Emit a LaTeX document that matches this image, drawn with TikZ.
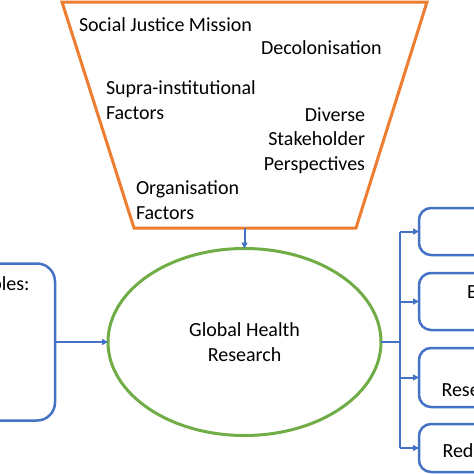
\documentclass[tikz,border=0pt]{standalone}
\usepackage{fontspec}
\setmainfont{Carlito}
\usetikzlibrary{arrows.meta,shapes.geometric,calc}
\definecolor{offorange}{HTML}{ED7D31}
\definecolor{offgreen}{HTML}{70AD47}
\definecolor{offblue}{HTML}{4472C4}
\begin{document}
\begin{tikzpicture}[x=1pt,y=-1pt,
  lbl/.style={inner sep=0pt,outer sep=0pt,font=\fontsize{20}{24.5}\selectfont},
  bluebox/.style={draw=offblue,line width=2.5pt,rounded corners=12pt,inner sep=0pt,outer sep=0pt},
  conn/.style={draw=offblue,line width=2pt,-{Triangle[length=6pt,width=6pt]}},
  busline/.style={draw=offblue,line width=2pt}]
\useasboundingbox (0,0) rectangle (474,474);
% funnel
\draw[offorange,line width=3pt,line join=miter] (62,2) -- (427,2) -- (356,228) -- (134,228) -- cycle;
\node[lbl,anchor=base west] (sjm) at (79,31) {Social Justice Mission};
\node[lbl,anchor=base west] (dec) at (261,54) {Decolonisation};
\node[lbl,anchor=base west,align=left] (sup) at (106,119) {Supra-institutional\\Factors};
\node[lbl,anchor=base east,align=right] (dsp) at (365,170) {Diverse\\Stakeholder\\Perspectives};
\node[lbl,anchor=base west,align=left] (org) at (136,219) {Organisation\\Factors};
% central ellipse
\node[ellipse,draw=offgreen,line width=3pt,minimum width=273pt,minimum height=187pt,inner sep=0pt,outer sep=0pt,
  align=center,font=\fontsize{20}{24.5}\selectfont] (ghr) at (244.5,342) {Global Health\\Research};
\coordinate (fb) at (244.5,228);
\draw[conn] (fb) -- (ghr.north);
% left box
\node[bluebox,rounded corners=18pt,minimum width=200pt,minimum height=157pt] (lbox) at (-45,342) {};
\node[lbl,anchor=base east] (lt) at (29.5,290) {ples:};
\draw[conn] (lbox.east) -- (ghr.west);
% right boxes
\node[bluebox,minimum width=200pt,minimum height=47pt] (b1) at (519,231.5) {};
\node[bluebox,minimum width=200pt,minimum height=57pt] (b2) at (519,301.5) {};
\node[bluebox,minimum width=200pt,minimum height=59pt] (b3) at (519,377.5) {};
\node[bluebox,minimum width=200pt,minimum height=48pt] (b4) at (519,448) {};
\node[lbl,anchor=base west] (t2) at (467,298) {E};
\node[lbl,anchor=base west] (t3) at (441.5,396) {Rese};
\node[lbl,anchor=base west] (t4) at (442.5,457) {Red};
\coordinate (bus) at (400,342);
\draw[busline] (ghr.east) -- (bus);
\draw[busline] (bus |- b1.west) -- (bus |- b4.west);
\draw[conn] (bus |- b1.west) -- (b1.west);
\draw[conn] (bus |- b2.west) -- (b2.west);
\draw[conn] (bus |- b3.west) -- (b3.west);
\draw[conn] (bus |- b4.west) -- (b4.west);
\end{tikzpicture}
\end{document}
